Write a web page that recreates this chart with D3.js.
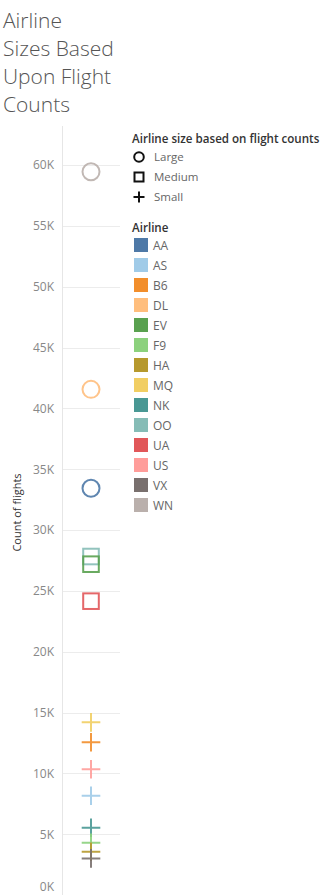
<!DOCTYPE html>
<html>
<head>
<meta charset="utf-8">
<script src="https://cdn.jsdelivr.net/npm/d3@7"></script>
<style>
  html, body { margin: 0; padding: 0; background: #fff; }
  svg { display: block; font-family: "Open Sans", Lato, "Noto Sans", sans-serif; }
</style>
</head>
<body>
<svg id="chart" width="325" height="895"></svg>
<script>
// Flight counts per airline, with the size class each airline falls into
const airlines = ["AA", "AS", "B6", "DL", "EV", "F9", "HA", "MQ", "NK", "OO", "UA", "US", "VX", "WN"];
const flightCounts = [33430, 8160, 12550, 41560, 27190, 4300, 3560, 14190, 5530, 27820, 24150, 10330, 3010, 59450];
const sizeClass = ["Large", "Small", "Small", "Large", "Medium", "Small", "Small", "Small", "Small", "Medium", "Medium", "Small", "Small", "Large"];
const airlineColors = ["#4e79a7", "#a0cbe8", "#f28e2b", "#ffbe7d", "#59a14f", "#8cd17d", "#b6992d", "#f1ce63", "#499894", "#86bcb6", "#e15759", "#ff9d9a", "#79706e", "#bab0ac"];
const sizeLevels = ["Large", "Medium", "Small"];
const yTicks = [0, 5000, 10000, 15000, 20000, 25000, 30000, 35000, 40000, 45000, 50000, 55000, 60000];

const titleLines = ["Airline", "Sizes Based", "Upon Flight", "Counts"];

const svg = d3.select("#chart");

const plot = { left: 62, right: 120, top: 126, bottom: 895 };

const y = d3.scaleLinear().domain([0, 60000]).range([895, 165]);
const x = d3.scalePoint().domain(["all"]).range([plot.left, plot.right]).padding(0.5);
const color = d3.scaleOrdinal().domain(airlines).range(airlineColors);

// Title
svg.append("g").selectAll("text").data(titleLines).join("text")
  .attr("x", 3)
  .attr("y", (d, i) => 28 + i * 28)
  .attr("font-size", 21)
  .attr("font-weight", 300)
  .attr("fill", "#555")
  .text(d => d);

// Gridlines
svg.append("g").selectAll("line").data(yTicks).join("line")
  .attr("x1", plot.left).attr("x2", plot.right)
  .attr("y1", d => Math.round(y(d)) + 0.5).attr("y2", d => Math.round(y(d)) + 0.5)
  .attr("stroke", "#ececec").attr("stroke-width", 1);

svg.append("line")
  .attr("x1", plot.left + 0.5).attr("x2", plot.left + 0.5)
  .attr("y1", plot.top).attr("y2", plot.bottom)
  .attr("stroke", "#e6e6e6");

// Y axis labels
const yAxis = d3.axisLeft(y).tickValues(yTicks).tickSize(0).tickPadding(0)
  .tickFormat(d => (d / 1000) + "K");
const yg = svg.append("g").attr("transform", `translate(${plot.left - 8},0)`).call(yAxis);
yg.select(".domain").remove();
yg.selectAll("text")
  .attr("font-size", 12)
  .attr("font-family", "'Open Sans', Lato, sans-serif")
  .attr("fill", "#888");
// keep the bottom label inside the frame
yg.selectAll(".tick").filter(d => d === 0).select("text").attr("dy", "-0.35em");

// Y axis title
svg.append("text")
  .attr("transform", `translate(21,${(plot.top + plot.bottom) / 2 + 2}) rotate(-90)`)
  .attr("text-anchor", "middle")
  .attr("font-size", 11)
  .attr("fill", "#333")
  .text("Count of flights");

// Marks
const rows = airlines.map((a, i) => ({ airline: a, count: flightCounts[i], size: sizeClass[i] }))
  .sort((a, b) => b.count - a.count);

const cx = x("all");
const marks = svg.append("g").selectAll("g").data(rows).join("g")
  .attr("transform", d => `translate(${cx},${y(d.count)})`)
  .attr("fill", "none")
  .attr("stroke", d => color(d.airline))
  .attr("stroke-width", 2)
  .attr("stroke-opacity", 0.9);

marks.filter(d => d.size === "Large").append("circle").attr("r", 8.5);
marks.filter(d => d.size === "Medium").append("rect")
  .attr("x", -7.8).attr("y", -7.8).attr("width", 15.6).attr("height", 15.6);
marks.filter(d => d.size === "Small").append("path")
  .attr("d", "M-9.3,0H9.3M0,-9.3V9.3");

// Shape legend
const legX = 132;
svg.append("text").attr("x", legX).attr("y", 143)
  .attr("font-size", 11.6).attr("font-weight", 600).attr("fill", "#333")
  .text("Airline size based on flight counts");

const shapeItems = svg.append("g").selectAll("g").data(sizeLevels).join("g")
  .attr("transform", (d, i) => `translate(${legX + 7},${157 + i * 20})`);
shapeItems.each(function(d) {
  const g = d3.select(this).append("g").attr("fill", "none").attr("stroke", "#111").attr("stroke-width", 2);
  if (d === "Large") g.append("circle").attr("r", 4.8);
  else if (d === "Medium") g.append("rect").attr("x", -4.5).attr("y", -4.5).attr("width", 9).attr("height", 9);
  else g.append("path").attr("d", "M-5.5,0H5.5M0,-5.5V5.5");
});
shapeItems.append("text").attr("x", 15).attr("y", 4)
  .attr("font-size", 11.5).attr("fill", "#666").text(d => d);

// Colour legend
svg.append("text").attr("x", legX).attr("y", 232)
  .attr("font-size", 11.6).attr("font-weight", 600).attr("fill", "#333")
  .text("Airline");

const colorItems = svg.append("g").selectAll("g").data(airlines).join("g")
  .attr("transform", (d, i) => `translate(${legX + 2},${238 + i * 20})`);
colorItems.append("rect").attr("width", 14).attr("height", 14).attr("fill", d => color(d));
colorItems.append("text").attr("x", 19).attr("y", 11.5)
  .attr("font-size", 12).attr("fill", "#666").text(d => d);
</script>
</body>
</html>
